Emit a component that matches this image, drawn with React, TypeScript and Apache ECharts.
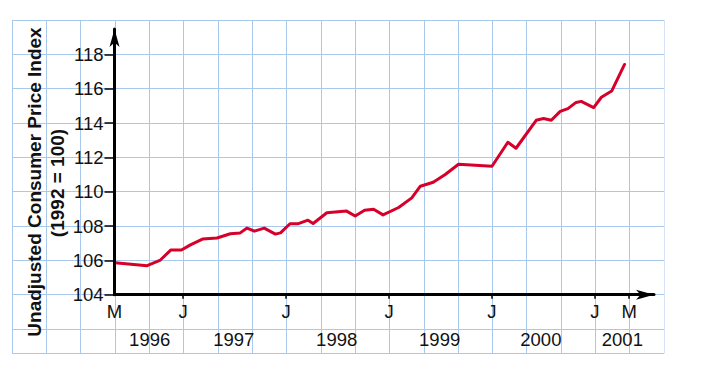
import React, { useEffect, useRef } from "react";
import * as echarts from "echarts";

// Months counted from the first "M" tick (May 1996 = 0)
const months = [0, 3.75, 5.3, 6.5, 7.75, 8.8, 10.2, 11.9, 13.45, 14.6, 15.4, 16.25, 17.4, 18.7, 19.3, 20.4, 21.3, 22.5, 23.1, 24.7, 27, 28, 29.1, 30.15, 31.25, 33.07, 34.6, 35.6, 37.1, 38.5, 40.05, 43.95, 45.8, 46.75, 49.1, 49.96, 50.86, 51.9, 52.8, 53.75, 54.35, 55.8, 56.7, 57.9, 59.4];
const cpi = [105.86, 105.69, 106.02, 106.6, 106.6, 106.9, 107.24, 107.3, 107.55, 107.6, 107.88, 107.7, 107.88, 107.53, 107.6, 108.13, 108.13, 108.34, 108.15, 108.77, 108.87, 108.58, 108.92, 108.98, 108.65, 109.08, 109.64, 110.32, 110.55, 111.0, 111.6, 111.48, 112.88, 112.53, 114.16, 114.26, 114.16, 114.68, 114.84, 115.2, 115.26, 114.9, 115.5, 115.86, 117.41];

const monthTickPos = [0, 8, 20, 32, 44, 56, 60];
const monthTickLabels = ["M", "J", "J", "J", "J", "J", "M"];
const yearLabelPos = [4.1, 13.9, 25.9, 37.9, 49.7, 59.2];
const yearLabels = ["1996", "1997", "1998", "1999", "2000", "2001"];
const yTicks = [104, 106, 108, 110, 112, 114, 116, 118];

const yTitle = "Unadjusted Consumer Price Index";
const ySubTitle = "(1992 = 100)";

export default function App() {
  const ref = useRef<HTMLDivElement>(null);
  useEffect(() => {
    if (!ref.current) return;
    const chart = echarts.init(ref.current, undefined, { renderer: "svg" });

    const W = 725, H = 378;
    const gridL = 12, gridR = 664, gridT = 20;
    const xMin = -12, xMax = 64, yMin = 100, yMax = 120;
    const axisX = 114.5, axisY = 294.7;
    const pxPerMonth = (gridR - gridL) / (xMax - xMin);
    const pxPerUnit = (axisY - gridT) / (yMax - 104);
    const gridBottomPx = gridT + (yMax - yMin) * pxPerUnit;
    const arrowH = 18;
    const xArrowTip = 663, yArrowTip = 20;
    const ax2Right = xArrowTip - arrowH / 2;
    const ax2Top = yArrowTip + arrowH / 2;
    const x2Max = (ax2Right - axisX) / pxPerMonth;
    const y2Max = 104 + (axisY - ax2Top) / pxPerUnit;
    const cutY = 353.5;

    const gridColor = "#a9c9ec";
    const font = '"Liberation Sans", Arial, sans-serif';
    const textColor = "#111";

    chart.setOption({
      animation: false,
      backgroundColor: "#fff",
      grid: [
        { left: gridL, right: W - gridR, top: gridT, bottom: H - gridBottomPx, containLabel: false },
        { left: axisX, right: W - ax2Right, top: ax2Top, bottom: H - axisY, containLabel: false },
      ],
      xAxis: [
        {
          type: "value", gridIndex: 0, min: xMin, max: xMax, interval: 4,
          axisLine: { show: false }, axisTick: { show: false }, axisLabel: { show: false },
          splitLine: { show: true, lineStyle: { color: gridColor, width: 1 } },
        },
        {
          type: "value", gridIndex: 1, position: "bottom", offset: 0, min: 0, max: x2Max, z: 5,
          axisLine: { show: true, symbol: ["none", "arrow"], symbolSize: [7.5, arrowH], lineStyle: { color: "#000", width: 3 } },
          axisTick: { show: true, length: 4, customValues: monthTickPos.slice(1), lineStyle: { color: "#000", width: 1.5 } },
          axisLabel: {
            show: true, customValues: monthTickPos, margin: 7, fontSize: 18.5, fontFamily: font, color: textColor,
            formatter: (v: number) => monthTickLabels[monthTickPos.indexOf(v)] ?? "",
          },
          splitLine: { show: false },
        },
        {
          type: "value", gridIndex: 1, position: "bottom", offset: 0, min: 0, max: x2Max, z: 5,
          axisLine: { show: false }, axisTick: { show: false },
          axisLabel: {
            show: true, customValues: yearLabelPos, margin: 35, fontSize: 18.5, fontFamily: font, color: textColor,
            formatter: (v: number) => yearLabels[yearLabelPos.indexOf(v)] ?? "",
          },
          splitLine: { show: false },
        },
      ],
      yAxis: [
        {
          type: "value", gridIndex: 0, min: yMin, max: yMax, interval: 2,
          axisLine: { show: false }, axisTick: { show: false }, axisLabel: { show: false },
          splitLine: { show: true, lineStyle: { color: gridColor, width: 1 } },
        },
        {
          type: "value", gridIndex: 1, min: 104, max: y2Max, z: 5,
          axisLine: { show: true, symbol: ["none", "arrow"], symbolSize: [7.5, arrowH], lineStyle: { color: "#000", width: 3 } },
          axisTick: { show: true, length: 10, customValues: yTicks, lineStyle: { color: "#000", width: 1.5 } },
          axisLabel: {
            show: true, customValues: yTicks, margin: 11, fontSize: 18.5, fontFamily: font, color: textColor,
          },
          splitLine: { show: false },
        },
      ],
      series: [
        {
          type: "line", xAxisIndex: 0, yAxisIndex: 0, z: 3,
          data: months.map((m, i) => [m, cpi[i]]),
          showSymbol: false, symbol: "none",
          lineStyle: { color: "#d6002a", width: 3, cap: "round", join: "round" },
        },
      ],
      graphic: [
        { type: "rect", z: 1, shape: { x: 0, y: cutY, width: W, height: H - cutY }, style: { fill: "#fff" } },
        { type: "rect", z: 1, shape: { x: gridR + 0.5, y: 0, width: W - gridR, height: H }, style: { fill: "#fff" } },
        { type: "line", z: 2, shape: { x1: gridL, y1: cutY, x2: gridR, y2: cutY }, style: { stroke: gridColor, lineWidth: 1 } },
        {
          type: "text", z: 6, x: 34, y: 182, rotation: Math.PI / 2,
          style: { text: yTitle, font: `bold 19px ${font}`, fill: textColor, align: "center", verticalAlign: "middle" },
        },
        {
          type: "text", z: 6, x: 57.5, y: 183, rotation: Math.PI / 2,
          style: { text: ySubTitle, font: `bold 19px ${font}`, fill: textColor, align: "center", verticalAlign: "middle" },
        },
      ],
    });
    return () => chart.dispose();
  }, []);
  return (
    <div
      ref={ref}
      style={{ position: "absolute", left: 0, top: 0, width: 725, height: 378, background: "#fff" }}
    />
  );
}
